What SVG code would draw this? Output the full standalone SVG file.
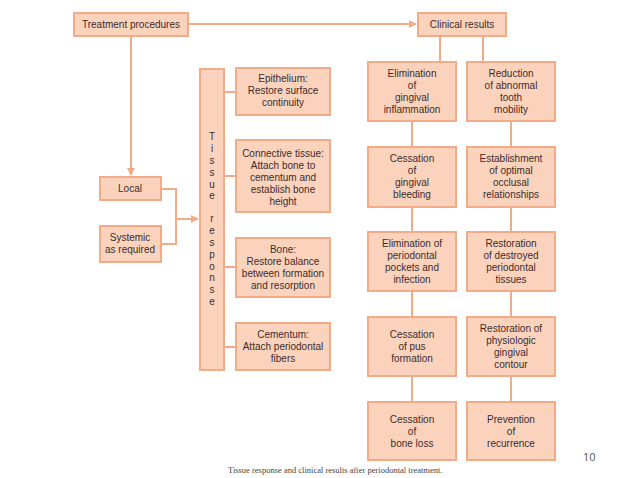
<svg xmlns="http://www.w3.org/2000/svg" width="638" height="478" viewBox="0 0 638 478">
<style>
.b{fill:#fbd3bd;stroke:#f2ab88;stroke-width:2}
.t{font-family:"Liberation Sans",Arial,sans-serif;font-size:10px;fill:#3b2b2b;text-anchor:middle}
.c{stroke:#f2ab88;stroke-width:2;fill:none}
</style>
<defs><marker id="a" markerWidth="8" markerHeight="8" refX="7" refY="4" orient="auto" markerUnits="userSpaceOnUse"><path d="M0,0L8,4L0,8z" fill="#f2ab88"/></marker></defs>
<rect width="638" height="478" fill="#fff"/>
<g id="connectors">
<path class="c" d="M188,24H416" marker-end="url(#a)"/>
<path class="c" d="M131,36V175" marker-end="url(#a)"/>
<path class="c" d="M161,189H176V244H161M176,219H198" marker-end="url(#a)"/>
<path class="c" d="M224,92H236M224,176H236M224,267H236M224,347H236"/>
<path class="c" d="M440,36V62M483,36V62"/>
<path class="c" d="M412,121V147M412,207V232M412,291V317M412,376V402"/>
<path class="c" d="M511,121V147M511,207V232M511,291V317M511,376V402"/>
</g>
<g id="treatment"><rect class="b" x="74" y="13" width="114" height="23"/><text class="t" x="131" y="28">Treatment procedures</text></g>
<g id="clinical"><rect class="b" x="418" y="13" width="88" height="23"/><text class="t" x="462" y="28">Clinical results</text></g>
<g id="local"><rect class="b" x="100" y="177" width="61" height="23"/><text class="t" x="130" y="192">Local</text></g>
<g id="systemic"><rect class="b" x="100" y="226" width="61" height="36"/><text class="t" x="130" y="241">Systemic</text><text class="t" x="130" y="253">as required</text></g>
<g id="tissue"><rect class="b" x="200" y="69" width="24" height="301"/>
<text class="t"><tspan x="212" y="140">T</tspan><tspan x="212" y="152">i</tspan><tspan x="212" y="164">s</tspan><tspan x="212" y="176">s</tspan><tspan x="212" y="188">u</tspan><tspan x="212" y="199">e</tspan><tspan x="212" y="222">r</tspan><tspan x="212" y="234">e</tspan><tspan x="212" y="246">s</tspan><tspan x="212" y="258">p</tspan><tspan x="212" y="270">o</tspan><tspan x="212" y="281">n</tspan><tspan x="212" y="293">s</tspan><tspan x="212" y="305">e</tspan></text></g>
<g id="epithelium"><rect class="b" x="236" y="68" width="94" height="47"/><text class="t"><tspan x="283" y="82">Epithelium:</tspan><tspan x="283" y="94">Restore surface</tspan><tspan x="283" y="106">continuity</tspan></text></g>
<g id="connective"><rect class="b" x="236" y="140" width="94" height="72"/><text class="t"><tspan x="283" y="157">Connective tissue:</tspan><tspan x="283" y="169">Attach bone to</tspan><tspan x="283" y="181">cementum and</tspan><tspan x="283" y="193">establish bone</tspan><tspan x="283" y="205">height</tspan></text></g>
<g id="bone"><rect class="b" x="236" y="238" width="94" height="59"/><text class="t"><tspan x="283" y="253">Bone:</tspan><tspan x="283" y="265">Restore balance</tspan><tspan x="283" y="277">between formation</tspan><tspan x="283" y="289">and resorption</tspan></text></g>
<g id="cementum"><rect class="b" x="236" y="323" width="94" height="47"/><text class="t"><tspan x="283" y="338">Cementum:</tspan><tspan x="283" y="350">Attach periodontal</tspan><tspan x="283" y="362">fibers</tspan></text></g>
<g id="l1"><rect class="b" x="368" y="62" width="88" height="59"/><text class="t"><tspan x="412" y="77">Elimination</tspan><tspan x="412" y="89">of</tspan><tspan x="412" y="101">gingival</tspan><tspan x="412" y="113">inflammation</tspan></text></g>
<g id="l2"><rect class="b" x="368" y="147" width="88" height="60"/><text class="t"><tspan x="412" y="162">Cessation</tspan><tspan x="412" y="174">of</tspan><tspan x="412" y="186">gingival</tspan><tspan x="412" y="198">bleeding</tspan></text></g>
<g id="l3"><rect class="b" x="368" y="232" width="88" height="59"/><text class="t"><tspan x="412" y="247">Elimination of</tspan><tspan x="412" y="259">periodontal</tspan><tspan x="412" y="271">pockets and</tspan><tspan x="412" y="283">infection</tspan></text></g>
<g id="l4"><rect class="b" x="368" y="317" width="88" height="59"/><text class="t"><tspan x="412" y="338">Cessation</tspan><tspan x="412" y="350">of pus</tspan><tspan x="412" y="362">formation</tspan></text></g>
<g id="l5"><rect class="b" x="368" y="402" width="88" height="58"/><text class="t"><tspan x="412" y="423">Cessation</tspan><tspan x="412" y="435">of</tspan><tspan x="412" y="447">bone loss</tspan></text></g>
<g id="r1"><rect class="b" x="467" y="62" width="88" height="59"/><text class="t"><tspan x="511" y="77">Reduction</tspan><tspan x="511" y="89">of abnormal</tspan><tspan x="511" y="101">tooth</tspan><tspan x="511" y="113">mobility</tspan></text></g>
<g id="r2"><rect class="b" x="467" y="147" width="88" height="60"/><text class="t"><tspan x="511" y="162">Establishment</tspan><tspan x="511" y="174">of optimal</tspan><tspan x="511" y="186">occlusal</tspan><tspan x="511" y="198">relationships</tspan></text></g>
<g id="r3"><rect class="b" x="467" y="232" width="88" height="59"/><text class="t"><tspan x="511" y="247">Restoration</tspan><tspan x="511" y="259">of destroyed</tspan><tspan x="511" y="271">periodontal</tspan><tspan x="511" y="283">tissues</tspan></text></g>
<g id="r4"><rect class="b" x="467" y="317" width="88" height="59"/><text class="t"><tspan x="511" y="332">Restoration of</tspan><tspan x="511" y="344">physiologic</tspan><tspan x="511" y="356">gingival</tspan><tspan x="511" y="368">contour</tspan></text></g>
<g id="r5"><rect class="b" x="467" y="402" width="88" height="58"/><text class="t"><tspan x="511" y="423">Prevention</tspan><tspan x="511" y="435">of</tspan><tspan x="511" y="447">recurrence</tspan></text></g>
<text x="583" y="461" style="font-family:'Open Sans',sans-serif;font-size:11px;fill:#555">10</text>
<text x="228" y="473" style="font-family:'Liberation Serif',serif;font-size:8.5px;fill:#444">Tissue response and clinical results after periodontal treatment.</text>
</svg>
